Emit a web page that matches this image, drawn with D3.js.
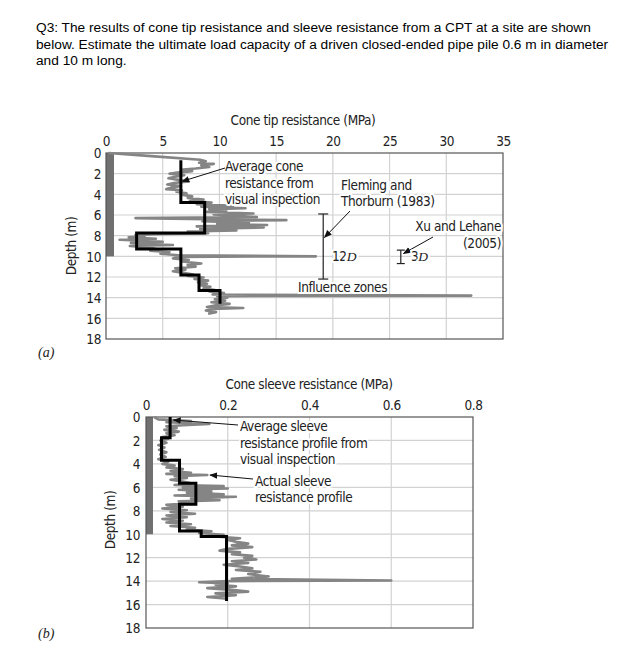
<!DOCTYPE html>
<html>
<head>
<meta charset="utf-8">
<script src="https://cdn.jsdelivr.net/npm/d3@7"></script>
<style>
  body { margin: 0; background: #fff; }
  .q { font-family: "Liberation Sans", Arial, sans-serif; font-size: 13.7px; }
  .c { font-family: "Liberation Sans Narrow", "DejaVu Sans Condensed", "Roboto", sans-serif; font-size: 13.5px; letter-spacing: -0.4px; fill: #222; }
  .halo { paint-order: stroke; stroke: #fff; stroke-width: 4px; stroke-linejoin: round; }
  .serif { font-family: "Liberation Serif", "DejaVu Serif", serif; font-style: italic; letter-spacing: 0; }
</style>
</head>
<body>
<svg id="chart" width="630" height="661"></svg>
<script>
// question text
const questionLines = [
  "Q3: The results of cone tip resistance and sleeve resistance from a CPT at a site are shown",
  "below. Estimate the ultimate load capacity of a driven closed-ended pipe pile 0.6 m in diameter",
  "and 10 m long."
];

// (a) cone tip resistance trace: [depth m, qc MPa]
const qcTrace = [
  [0,0.2],[0.3,4],[0.65,8.3],[0.8,8.8],[0.95,8.2],[1.05,9.5],[1.2,8.4],[1.35,9.1],[1.5,7.9],[1.6,6.8],
  [1.75,7.6],[1.9,6.3],[2.0,5.6],[2.15,6.9],[2.3,6.1],[2.45,5.5],[2.6,6.4],[2.75,7.3],[2.9,6.0],[3.05,5.4],
  [3.2,6.6],[3.35,5.8],[3.5,5.3],[3.6,6.7],[3.75,6.2],[3.9,7.1],[4.05,6.8],[4.2,7.6],[4.35,7.2],[4.5,8.6],
  [4.65,7.4],[4.8,9.3],[4.95,8.0],[5.1,11.2],[5.2,8.4],[5.35,12.3],[5.45,9.1],[5.6,10.6],[5.7,8.7],[5.85,13.0],
  [5.95,9.5],[6.1,11.8],[6.2,13.3],[6.3,2.6],[6.4,9.0],[6.5,15.9],[6.6,8.5],[6.75,12.6],[6.85,9.8],[6.97,14.2],
  [7.1,8.0],[7.2,13.9],[7.35,8.3],[7.5,11.5],[7.6,7.2],[7.75,9.0],[7.85,4.2],[7.95,2.6],[8.05,3.4],[8.15,2.0],
  [8.3,4.4],[8.4,1.2],[8.5,3.6],[8.6,5.0],[8.7,2.2],[8.8,3.4],[8.9,5.9],[9.0,2.1],[9.15,3.8],[9.3,4.4],
  [9.45,3.9],[9.6,5.6],[9.75,4.8],[9.9,6.4],[10.0,18.5],[10.05,6.3],[10.2,5.9],[10.35,7.3],[10.5,6.7],[10.7,8.4],
  [10.85,7.2],[11.0,7.9],[11.15,6.1],[11.3,7.0],[11.45,5.9],[11.6,6.8],[11.75,7.7],[11.9,7.2],[12.05,8.6],[12.2,7.8],
  [12.35,9.0],[12.5,8.1],[12.65,8.9],[12.8,8.3],[12.95,9.2],[13.1,8.6],[13.25,9.6],[13.4,9.1],[13.55,10.4],[13.7,9.4],
  [13.8,32.2],[13.85,9.8],[14.0,10.7],[14.15,9.6],[14.3,10.5],[14.45,9.3],[14.6,10.9],[14.75,9.6],[14.9,8.9],[15.0,12.1],
  [15.1,9.4],[15.25,8.8],[15.4,9.7],[15.55,9.0]
];
// average cone resistance from visual inspection
const qcAvgDepths = [0.7, 4.8, 7.75, 9.3, 11.8, 13.3, 14.6];
const qcAvgValues = [6.6, 8.7, 2.7, 6.6, 8.2, 10.05];

// (b) sleeve resistance trace: [depth m, fs MPa]
const fsTrace = [
  [0,0.02],[0.2,0.03],[0.35,0.11],[0.45,0.05],[0.6,0.155],[0.7,0.09],[0.8,0.05],[0.95,0.075],[1.1,0.045],[1.25,0.08],
  [1.4,0.05],[1.55,0.07],[1.7,0.04],[1.85,0.055],[2.0,0.035],[2.2,0.05],[2.4,0.03],[2.6,0.045],[2.8,0.032],[3.0,0.05],
  [3.2,0.035],[3.4,0.048],[3.6,0.03],[3.8,0.055],[4.0,0.04],[4.15,0.07],[4.3,0.05],[4.45,0.09],[4.6,0.06],[4.75,0.11],
  [4.85,0.05],[4.95,0.15],[5.05,0.07],[5.2,0.1],[5.35,0.06],[5.5,0.09],[5.65,0.11],[5.8,0.07],[5.9,0.19],[6.0,0.09],
  [6.1,0.2],[6.2,0.08],[6.35,0.16],[6.45,0.1],[6.6,0.19],[6.7,0.07],[6.8,0.22],[6.95,0.11],[7.1,0.18],[7.2,0.08],
  [7.35,0.12],[7.5,0.05],[7.65,0.09],[7.8,0.04],[7.95,0.1],[8.1,0.06],[8.25,0.12],[8.4,0.05],[8.55,0.1],[8.7,0.04],
  [8.85,0.09],[9.0,0.05],[9.15,0.11],[9.3,0.06],[9.45,0.12],[9.6,0.1],[9.75,0.16],[9.9,0.13],[10.05,0.19],[10.2,0.17],
  [10.35,0.23],[10.5,0.2],[10.65,0.22],[10.8,0.25],[10.95,0.21],[11.1,0.26],[11.25,0.2],[11.4,0.18],[11.55,0.23],[11.7,0.21],
  [11.85,0.26],[12.0,0.24],[12.15,0.27],[12.3,0.21],[12.45,0.25],[12.6,0.19],[12.75,0.23],[12.9,0.26],[13.05,0.22],[13.2,0.28],
  [13.4,0.25],[13.6,0.3],[13.8,0.21],[13.95,0.6],[14.0,0.2],[14.1,0.13],[14.2,0.2],[14.3,0.17],[14.45,0.22],[14.6,0.15],
  [14.75,0.21],[14.9,0.25],[15.05,0.17],[15.2,0.22],[15.35,0.15],[15.5,0.2]
];
const fsAvgDepths = [0, 1.76, 3.7, 5.65, 7.45, 9.73, 10.2, 15.7];
const fsAvgValues = [0.059, 0.038, 0.082, 0.122, 0.082, 0.135, 0.197];

// axes
const depthTicks = [0, 2, 4, 6, 8, 10, 12, 14, 16, 18];
const qcTicks = [0, 5, 10, 15, 20, 25, 30, 35];
const fsTicks = [0, 0.2, 0.4, 0.6, 0.8];
const pileLength = 10;
// influence zones (depth ranges)
const flemingZone = [5.9, 12.2];
const xuZone = [9.4, 10.7];

const svg = d3.select("#chart");

svg.append("g").selectAll("text").data(questionLines).join("text")
    .attr("class", "q")
    .attr("x", 36)
    .attr("y", (d, i) => 32 + i * 16.5)
    .text(d => d);

svg.append("defs").append("marker")
    .attr("id", "arr")
    .attr("viewBox", "0 0 10 10")
    .attr("refX", 9).attr("refY", 5)
    .attr("markerWidth", 8).attr("markerHeight", 8)
    .attr("markerUnits", "userSpaceOnUse")
    .attr("orient", "auto")
  .append("path")
    .attr("d", "M0,1L10,5L0,9Z")
    .attr("fill", "#111");

function stepPoints(depths, values) {
    const pts = [];
    values.forEach((v, i) => {
        pts.push([depths[i], v]);
        pts.push([depths[i + 1], v]);
    });
    return pts;
}

function drawPanel(p) {
    const g = svg.append("g");
    const x = p.x, y = p.y;
    const [x0, x1] = x.range(), [y0, y1] = y.range();

    // grid
    g.append("g").selectAll("line").data(depthTicks.slice(1, -1)).join("line")
        .attr("x1", x0).attr("x2", x1)
        .attr("y1", d => y(d)).attr("y2", d => y(d))
        .attr("stroke", "#d2d2d2").attr("stroke-width", 1.2);
    g.append("g").selectAll("line").data(p.xTicks.slice(1, -1)).join("line")
        .attr("y1", y0).attr("y2", y1)
        .attr("x1", d => x(d)).attr("x2", d => x(d))
        .attr("stroke", "#d2d2d2").attr("stroke-width", 1.2);

    // pile
    g.append("rect")
        .attr("x", x0).attr("y", y(0))
        .attr("width", p.pileWidth).attr("height", y(pileLength) - y(0))
        .attr("fill", "#707070");

    // frame
    g.append("rect")
        .attr("x", x0).attr("y", y0)
        .attr("width", x1 - x0).attr("height", y1 - y0)
        .attr("fill", "none").attr("stroke", "#555").attr("stroke-width", 1.2);

    const line = d3.line().x(d => x(d[1])).y(d => y(d[0]));
    g.append("path")
        .attr("d", line(p.trace))
        .attr("fill", "none").attr("stroke", "#858585").attr("stroke-width", 2.6)
        .attr("stroke-linejoin", "round");
    g.append("path")
        .attr("d", line(stepPoints(p.avgDepths, p.avgValues)))
        .attr("fill", "none").attr("stroke", "#000").attr("stroke-width", 3);

    // axes
    const top = g.append("g").attr("class", "c")
        .attr("transform", `translate(0,${y0})`)
        .call(d3.axisTop(x).tickValues(p.xTicks).tickSize(0).tickPadding(7).tickFormat(p.fmt));
    const left = g.append("g").attr("class", "c")
        .attr("transform", `translate(${x0},0)`)
        .call(d3.axisLeft(y).tickValues(depthTicks).tickSize(0).tickPadding(p.yPad).tickFormat(d3.format("d")));
    [top, left].forEach(a => {
        a.select(".domain").remove();
        a.selectAll("text").attr("font-family", null).attr("font-size", null).attr("fill", "#222");
    });
    left.selectAll("text").attr("dy", "0.36em");

    g.append("text").attr("class", "c")
        .attr("x", p.titleX).attr("y", y0 - 28)
        .attr("text-anchor", "middle")
        .text(p.title);
    g.append("text").attr("class", "c")
        .attr("transform", `translate(${p.depthLabelX},${p.depthLabelY}) rotate(-90)`)
        .attr("text-anchor", "middle")
        .text("Depth (m)");
    g.append("text").attr("class", "serif")
        .attr("x", 38).attr("y", p.tagY)
        .attr("font-size", 14).attr("fill", "#222")
        .text(p.tag);
    return g;
}

function addLabel(g, lines, px, py, anchor, lh) {
    g.append("g").selectAll("text").data(lines).join("text")
        .attr("class", "c halo")
        .attr("x", px).attr("y", (d, i) => py + i * lh)
        .attr("text-anchor", anchor || "start")
        .text(d => d);
}
function addArrow(g, a, b) {
    g.append("line")
        .attr("x1", a[0]).attr("y1", a[1]).attr("x2", b[0]).attr("y2", b[1])
        .attr("stroke", "#111").attr("stroke-width", 1)
        .attr("marker-end", "url(#arr)");
}

// panel (a)
const xA = d3.scaleLinear([0, 35], [106, 503]);
const yA = d3.scaleLinear([0, 18], [153, 339]);
const gA = drawPanel({
    x: xA, y: yA, xTicks: qcTicks, fmt: d3.format("d"),
    trace: qcTrace, avgDepths: qcAvgDepths, avgValues: qcAvgValues,
    pileWidth: 8, yPad: 5, title: "Cone tip resistance (MPa)", titleX: 303,
    depthLabelX: 76, depthLabelY: 246, tag: "(a)", tagY: 357
});

addLabel(gA, ["Average cone", "resistance from", "visual inspection"], 225, 171, "start", 16.6);
addArrow(gA, [225, 168], [xA(6.7), yA(2.75)]);
addLabel(gA, ["Fleming and", "Thorburn (1983)"], 341, 190, "start", 16);
addArrow(gA, [350, 211], [324.5, 237.5]);
addLabel(gA, ["Xu and Lehane", "(2005)"], 501, 231, "end", 17);
addArrow(gA, [433, 237], [403.5, 253.5]);
addLabel(gA, ["Influence zones"], 298, 292, "start", 16);

// influence zone bars
function zoneBar(g, xv, zone, half) {
    const xp = xA(xv);
    const bar = g.append("g").attr("stroke", "#222").attr("stroke-width", 1.2);
    bar.append("line").attr("x1", xp).attr("x2", xp).attr("y1", yA(zone[0])).attr("y2", yA(zone[1]));
    zone.forEach(z => bar.append("line")
        .attr("x1", xp - half).attr("x2", xp + half).attr("y1", yA(z)).attr("y2", yA(z)));
}
zoneBar(gA, 19.15, flemingZone, 5);
zoneBar(gA, 25.99, xuZone, 4);

function dLabel(g, px, py, num) {
    const t = g.append("text").attr("class", "c halo").attr("x", px).attr("y", py);
    t.append("tspan").text(num);
    t.append("tspan").attr("class", "serif").text("D");
}
dLabel(gA, 332, yA(10) + 5, "12");
dLabel(gA, 411, yA(10) + 5, "3");

// panel (b)
const xB = d3.scaleLinear([0, 0.8], [146, 473]);
const yB = d3.scaleLinear([0, 18], [417, 628]);
const gB = drawPanel({
    x: xB, y: yB, xTicks: fsTicks, fmt: d => d === 0 ? "0" : d3.format(".1f")(d),
    trace: fsTrace, avgDepths: fsAvgDepths, avgValues: fsAvgValues,
    pileWidth: 7, yPad: 6, title: "Cone sleeve resistance (MPa)", titleX: 309,
    depthLabelX: 115, depthLabelY: 520, tag: "(b)", tagY: 638
});
addLabel(gB, ["Average sleeve", "resistance profile from", "visual inspection"], 240, 431, "start", 16.6);
addArrow(gB, [238, 425], [173.5, 420]);
addLabel(gB, ["Actual sleeve", "resistance profile"], 255, 485.5, "start", 16);
addArrow(gB, [253, 479], [210, 475]);
</script>
</body>
</html>
